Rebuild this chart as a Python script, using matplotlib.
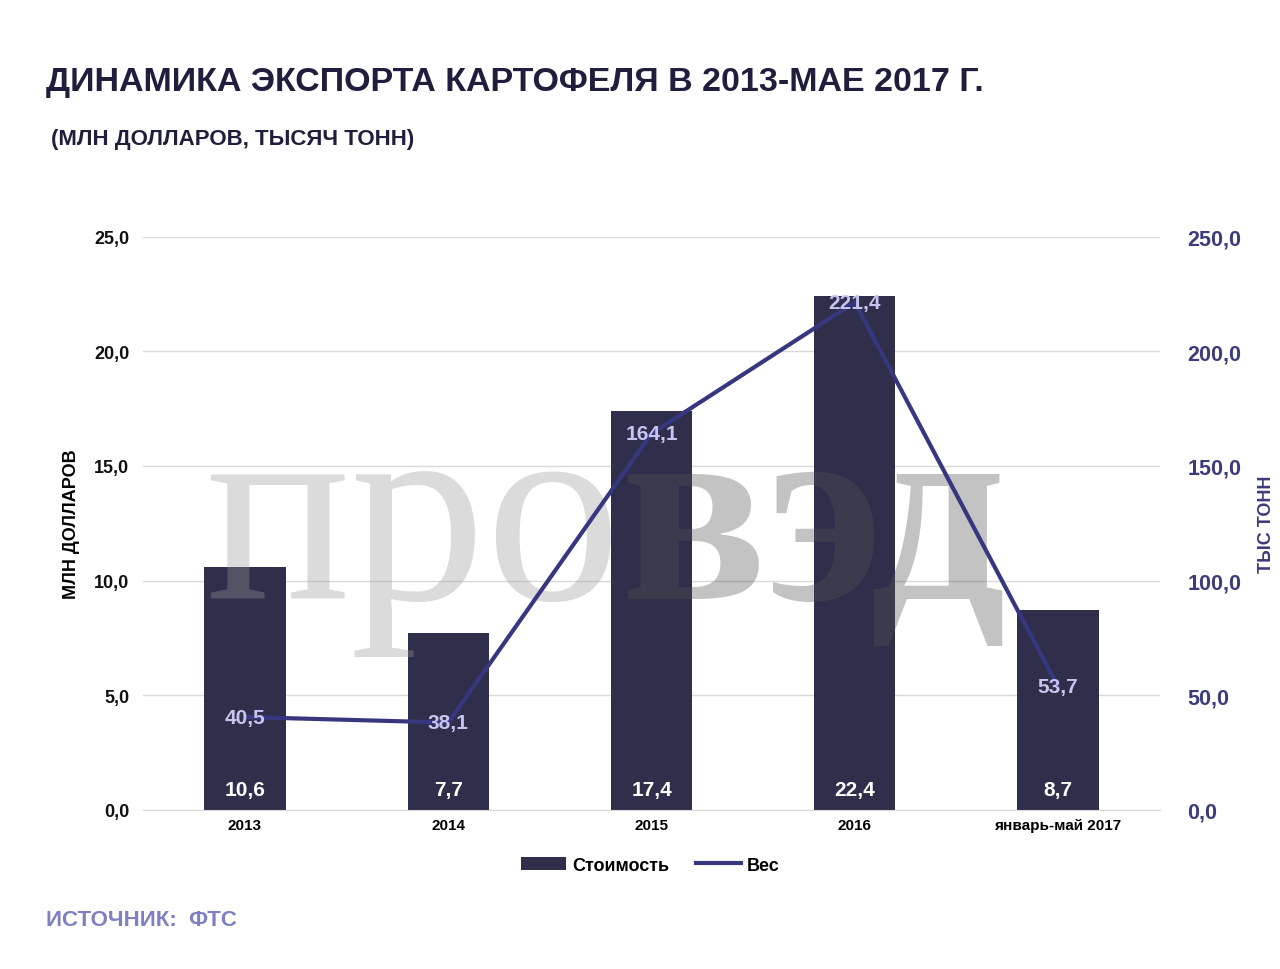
import matplotlib
matplotlib.use("Agg")
import matplotlib.pyplot as plt

categories = ["2013", "2014", "2015", "2016", "январь-май 2017"]
value_musd = [10.6, 7.7, 17.4, 22.4, 8.7]
weight_kt = [40.5, 38.1, 164.1, 221.4, 53.7]
left_ticks = [0, 5, 10, 15, 20, 25]
right_ticks = [0, 50, 100, 150, 200, 250]

def fmt(v):
    return f"{v:.1f}".replace(".", ",")

plt.rcParams["font.family"] = "Liberation Sans"
fig = plt.figure(figsize=(12.8, 9.7), dpi=100)
ax = fig.add_axes([0.112, 0.164, 0.794, 0.591])
ax2 = ax.twinx()

bar_c = "#2f2e4b"
line_c = "#37377f"
x = list(range(len(categories)))

fig.text(0.485, 0.45, "про", fontsize=195, color="#9a9a9a", alpha=0.35,
         ha="right", va="center", family="Liberation Serif", zorder=0)
fig.text(0.485, 0.45, "вэд", fontsize=195, color="#555555", alpha=0.35, fontweight="bold",
         ha="left", va="center", family="Liberation Serif", zorder=0)

ax.bar(x, value_musd, width=0.4, color=bar_c, zorder=2, label="Стоимость")
for xi, v in zip(x, value_musd):
    ax.text(xi, 0.9, fmt(v), ha="center", va="center", color="white", fontsize=15, fontweight="bold", zorder=5)
ax.set_ylim(0, 25)
ax.set_xlim(-0.5, 4.5)
ax.set_yticks(left_ticks)
ax.set_yticklabels([fmt(t) for t in left_ticks], fontsize=13, fontweight="bold", color="#111111")
ax.set_xticks(x)
ax.set_xticklabels(categories, fontsize=11, fontweight="bold")
ax.grid(axis="y", color="#d9d9d9", lw=1, zorder=0)
ax.set_axisbelow(True)
ax.tick_params(length=0, pad=10)
ax.tick_params(axis="x", pad=6)
for s in ["top", "left", "right"]:
    ax.spines[s].set_visible(False)
ax2.spines[["top", "left", "right", "bottom"]].set_visible(False)
ax.spines["bottom"].set_color("#d9d9d9")
ax.set_ylabel("МЛН ДОЛЛАРОВ", fontsize=13, fontweight="bold", labelpad=10)

ax2.plot(x, weight_kt, color=line_c, lw=3, zorder=4, label="Вес")
for xi, v in zip(x, weight_kt):
    ax2.text(xi, v, fmt(v), ha="center", va="center", color="#c5c5ef", fontsize=15, fontweight="bold", zorder=6)
ax2.set_ylim(0, 250)
ax2.set_yticks(right_ticks)
ax2.set_yticklabels([fmt(t) for t in right_ticks], fontsize=15.5, fontweight="bold", color="#3c3c7c")
ax2.tick_params(length=0, pad=20)
ax2.set_ylabel("ТЫС ТОНН", fontsize=13, fontweight="bold", color="#3c3c7c", labelpad=12)
ax2.set_zorder(ax.get_zorder() + 1)
ax2.patch.set_visible(False)

h1, l1 = ax.get_legend_handles_labels()
h2, l2 = ax2.get_legend_handles_labels()
fig.legend(h1 + h2, l1 + l2, loc="center", bbox_to_anchor=(0.508, 0.107), ncol=2, frameon=False,
           prop={"size": 13, "weight": "bold"}, handlelength=2.5, columnspacing=1.5, handletextpad=0.3)

fig.text(0.036, 0.915, "ДИНАМИКА ЭКСПОРТА КАРТОФЕЛЯ В 2013-МАЕ 2017 Г.", fontsize=24.5,
         fontweight="bold", color="#1f1f3d", va="center")
fig.text(0.04, 0.856, "(МЛН ДОЛЛАРОВ, ТЫСЯЧ ТОНН)", fontsize=16, fontweight="bold", color="#1f1f3d", va="center")
fig.text(0.036, 0.051, "ИСТОЧНИК:  ФТС", fontsize=16, fontweight="bold", color="#7f7fc4", va="center")

fig.savefig("out.png", dpi=100)
